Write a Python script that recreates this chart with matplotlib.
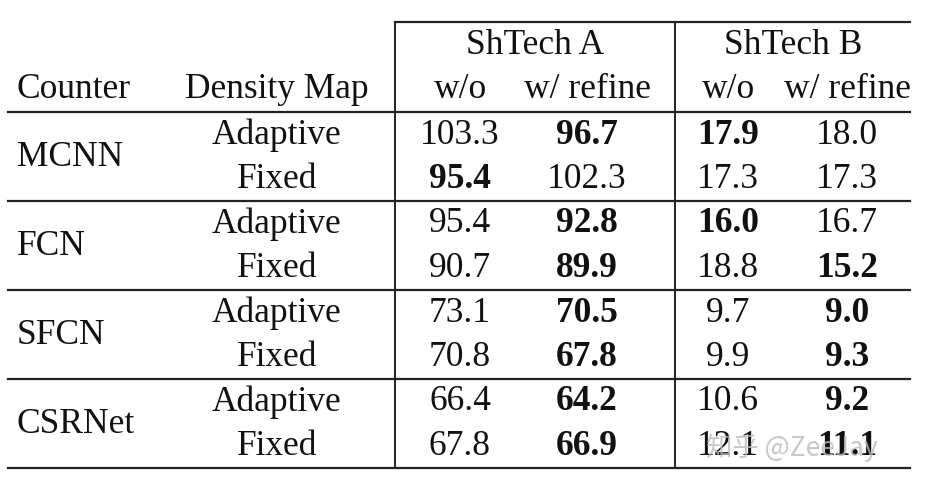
import matplotlib.pyplot as plt
from matplotlib.lines import Line2D

counters = ["MCNN", "FCN", "SFCN", "CSRNet"]
density = ["Adaptive", "Fixed"]
a_wo = [103.3, 95.4, 95.4, 90.7, 73.1, 70.8, 66.4, 67.8]
a_ref = [96.7, 102.3, 92.8, 89.9, 70.5, 67.8, 64.2, 66.9]
b_wo = [17.9, 17.3, 16.0, 18.8, 9.7, 9.9, 10.6, 12.1]
b_ref = [18.0, 17.3, 16.7, 15.2, 9.0, 9.3, 9.2, 11.1]
bold_a = ["r", "w", "r", "r", "r", "r", "r", "r"]
bold_b = ["w", "", "w", "r", "r", "r", "r", "r"]

W, H = 926, 492
fig = plt.figure(figsize=(W / 100, H / 100), dpi=100)
fig.patch.set_facecolor("white")
ax = fig.add_axes([0, 0, 1, 1])
ax.set_xlim(0, W)
ax.set_ylim(H, 0)
ax.axis("off")

fs = 25.5
fam = "Liberation Serif"


def txt(x, y, s, ha="center", bold=False):
    ax.text(x, y + 2, s, ha=ha, va="center", fontsize=fs, family=fam,
            fontweight="bold" if bold else "normal", color="#111111")


def hline(y, x0, x1):
    ax.add_line(Line2D([x0, x1], [y, y], color="#222222", lw=1.6))


def vline(x, y0, y1):
    ax.add_line(Line2D([x, x], [y0, y1], color="#222222", lw=1.4))


txt(535, 44, "ShTech A")
txt(793, 44, "ShTech B")
txt(17, 88, "Counter", ha="left")
txt(277, 88, "Density Map")
txt(460, 88, "w/o")
txt(587, 88, "w/ refine")
txt(728, 88, "w/o")
txt(847, 88, "w/ refine")

row_y0, row_h = 133, 44.5
for i in range(8):
    y = row_y0 + i * row_h
    txt(277, y, density[i % 2])
    txt(460, y, f"{a_wo[i]:.1f}", bold=bold_a[i] == "w")
    txt(587, y, f"{a_ref[i]:.1f}", bold=bold_a[i] == "r")
    txt(728, y, f"{b_wo[i]:.1f}", bold=bold_b[i] == "w")
    txt(847, y, f"{b_ref[i]:.1f}", bold=bold_b[i] == "r")
for g, name in enumerate(counters):
    txt(17, row_y0 + (2 * g + 0.5) * row_h, name, ha="left")

hline(22, 395, 910)
for y in [112, 201, 290, 379, 468]:
    hline(y, 8, 910)
vline(395, 22, 468)
vline(675, 22, 468)

ax.text(792, 448, "知乎 @ZeeJay", ha="center", va="center", fontsize=19,
        family=["Noto Sans CJK SC", "DejaVu Sans"], color="#bbbbbb", alpha=0.8)

fig.savefig("out.png", dpi=100, facecolor="white")
